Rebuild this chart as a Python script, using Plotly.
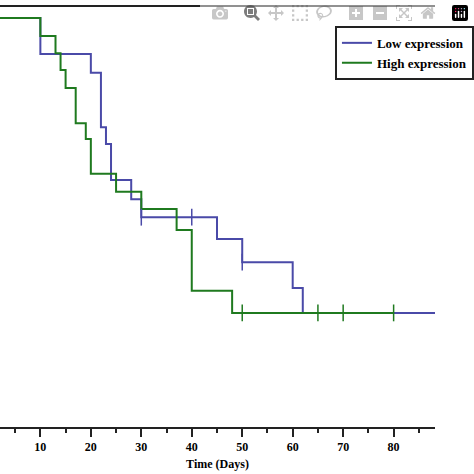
import plotly.graph_objects as go

# Kaplan-Meier steps
low_days = [0, 10, 20, 22, 23, 24, 28, 30, 45, 50, 60, 62, 90]
low_surv = [1.0, 0.912, 0.866, 0.733, 0.692, 0.604, 0.557, 0.513, 0.46, 0.403, 0.34, 0.279, 0.279]
low_cens_days = [30, 40, 50]
low_cens_surv = [0.513, 0.513, 0.403]

high_days = [0, 10, 13, 14, 15, 17, 19, 20, 25, 30, 37, 40, 48, 80]
high_surv = [1.0, 0.956, 0.914, 0.873, 0.829, 0.743, 0.704, 0.619, 0.575, 0.533, 0.482, 0.333, 0.279, 0.279]
high_cens_days = [50, 65, 70, 80]
high_cens_surv = [0.279, 0.279, 0.279, 0.279]

BLUE = "#4a4aa8"
GREEN = "#1f7a1f"
FONT = "Liberation Serif"

fig = go.Figure()
fig.add_trace(go.Scatter(x=low_days, y=low_surv, mode="lines", line=dict(shape="hv", color=BLUE, width=2),
                         name="Low expression"))
fig.add_trace(go.Scatter(x=high_days, y=high_surv, mode="lines", line=dict(shape="hv", color=GREEN, width=2),
                         name="High expression"))
fig.add_trace(go.Scatter(x=low_cens_days, y=low_cens_surv, mode="markers", showlegend=False,
                         marker=dict(symbol="line-ns", size=12, line=dict(color=BLUE, width=1.5))))
fig.add_trace(go.Scatter(x=high_cens_days, y=high_cens_surv, mode="markers", showlegend=False,
                         marker=dict(symbol="line-ns", size=12, line=dict(color=GREEN, width=1.5))))

fig.update_layout(
    width=474, height=474,
    margin=dict(l=0, r=0, t=7, b=47),
    plot_bgcolor="white", paper_bgcolor="white",
    font=dict(family=FONT, size=12, color="black", weight="bold"),
    legend=dict(x=0.77, y=0.955, xanchor="left", yanchor="top", bgcolor="white",
                bordercolor="#222", borderwidth=2,
                font=dict(family=FONT, size=13, color="black", weight="bold"),
                tracegroupgap=0),
    xaxis=dict(range=[2, 88.2], tickvals=[10, 20, 30, 40, 50, 60, 70, 80], ticks="outside", ticklen=8,
               tickwidth=1.5, tickcolor="#222", showline=True, linecolor="#222", linewidth=2, mirror=True,
               showgrid=False, zeroline=False,
               minor=dict(dtick=5, tick0=0, ticks="outside", ticklen=4, tickcolor="#222"),
               tickfont=dict(family=FONT, size=12, color="black", weight="bold"),
               title=dict(text="Time (Days)", font=dict(family=FONT, size=12, weight="bold"), standoff=6)),
    yaxis=dict(range=[0, 1.027], showgrid=False, zeroline=False, showticklabels=False, ticks=""),
)
fig.write_html("out.html", post_script="document.body.style.margin='0';")
